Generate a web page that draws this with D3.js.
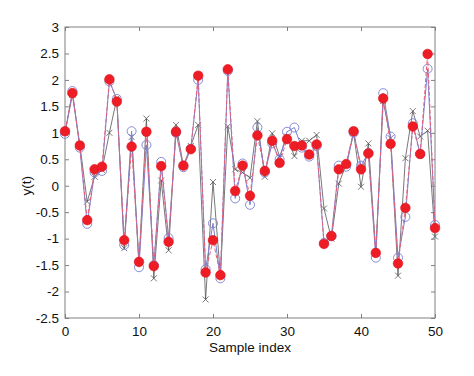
<!DOCTYPE html>
<html>
<head>
<meta charset="utf-8">
<script src="https://cdn.jsdelivr.net/npm/d3@7"></script>
<style>
  body { margin: 0; background: #fff; }
  svg text { font-family: "Liberation Sans", Arial, sans-serif; }
</style>
</head>
<body>
<svg id="chart"></svg>
<script>
// values, x = 0..50
const estimated = [1.03,1.75,0.76,-0.65,0.31,0.36,2.01,1.59,-1.03,0.74,-1.44,1.02,-1.52,0.37,-1.06,1.02,0.38,0.69,2.08,-1.64,
  -1.03,-1.69,2.2,-0.1,0.38,-0.19,0.95,0.28,0.85,0.43,0.88,0.75,0.76,0.59,0.78,-1.1,-0.95,0.31,0.41,1.03,
  0.31,0.61,-1.27,1.65,0.79,-1.47,-0.42,1.12,0.6,2.49,-0.8];
const reference = [0.98,1.79,0.72,-0.72,0.25,0.28,1.97,1.64,-1.12,1.03,-1.54,0.77,-1.5,0.45,-0.99,1.0,0.35,0.7,2.0,-1.58,
  -0.71,-1.75,2.17,-0.24,0.42,-0.36,1.1,0.25,0.8,0.5,1.02,1.1,0.72,0.55,0.75,-1.08,-0.95,0.38,0.36,1.0,
  0.38,0.62,-1.36,1.75,0.93,-1.36,-0.59,1.18,0.6,2.21,-0.74];
const measured = [1.0,1.72,0.78,-0.3,0.17,0.3,1.0,1.65,-1.18,0.92,-1.45,1.27,-1.75,0.1,-1.22,1.15,0.38,0.75,1.15,-2.15,
  0.07,-1.7,1.12,0.31,0.25,0.15,1.22,0.17,0.99,0.55,0.93,0.56,0.85,0.85,0.96,-0.43,-1.0,0.04,0.4,1.0,
  -0.02,0.8,-1.25,1.6,0.9,-1.7,0.52,1.41,0.93,1.04,-0.96];
const xTicks = [0, 10, 20, 30, 40, 50];
const yTicks = [-2.5, -2, -1.5, -1, -0.5, 0, 0.5, 1, 1.5, 2, 2.5, 3];

const width = 474, height = 376;
const marginLeft = 65, marginRight = 39, marginTop = 27, marginBottom = 58;

const svg = d3.select('#chart')
  .attr('width', width)
  .attr('height', height)
  .attr('viewBox', [0, 0, width, height]);

const x = d3.scaleLinear().domain([0, 50]).range([marginLeft, width - marginRight]);
const y = d3.scaleLinear().domain([-2.5, 3]).range([height - marginBottom, marginTop]);

const axisColor = '#808080';
const tickLen = 4;
const plain = (d) => String(d); // hyphen minus, no trailing zeros

// box + inward ticks, matlab style
function styleAxis(g) {
  g.select('.domain').remove();
  g.selectAll('.tick line').attr('stroke', axisColor);
  g.selectAll('.tick text').attr('fill', '#111').style('font-size', '13.5px');
}

svg.append('g')
  .attr('transform', `translate(0,${height - marginBottom})`)
  .call(d3.axisBottom(x).tickValues(xTicks).tickSize(-tickLen).tickPadding(8).tickFormat(plain))
  .call(styleAxis);
svg.append('g')
  .attr('transform', `translate(0,${marginTop})`)
  .call(d3.axisTop(x).tickValues(xTicks).tickSize(-tickLen).tickFormat(''))
  .call(styleAxis);
svg.append('g')
  .attr('transform', `translate(${marginLeft},0)`)
  .call(d3.axisLeft(y).tickValues(yTicks).tickSize(-tickLen).tickPadding(6).tickFormat(plain))
  .call(styleAxis);
svg.append('g')
  .attr('transform', `translate(${width - marginRight},0)`)
  .call(d3.axisRight(y).tickValues(yTicks).tickSize(-tickLen).tickFormat(''))
  .call(styleAxis);

svg.append('rect')
  .attr('x', marginLeft).attr('y', marginTop)
  .attr('width', width - marginLeft - marginRight)
  .attr('height', height - marginTop - marginBottom)
  .attr('fill', 'none')
  .attr('stroke', axisColor);

const line = d3.line().x((d, i) => x(i)).y((d) => y(d));

/** black with x markers **/
svg.append('path').datum(measured)
  .attr('d', line).attr('fill', 'none')
  .attr('stroke', '#555').attr('stroke-width', 0.8);
svg.append('g').selectAll('path')
  .data(measured)
  .join('path')
  .attr('transform', (d, i) => `translate(${x(i)},${y(d)})`)
  .attr('d', 'M-3,-3L3,3M-3,3L3,-3')
  .attr('stroke', '#555').attr('stroke-width', 0.8);

/** blue open circles **/
svg.append('path').datum(reference)
  .attr('d', line).attr('fill', 'none')
  .attr('stroke', '#7b7fd0').attr('stroke-width', 1);
svg.append('g').selectAll('circle')
  .data(reference)
  .join('circle')
  .attr('cx', (d, i) => x(i)).attr('cy', (d) => y(d)).attr('r', 4.5)
  .attr('fill', 'none').attr('stroke', '#7b7fd0').attr('stroke-width', 0.9);

/** red dashed, filled dots **/
svg.append('path').datum(estimated)
  .attr('d', line).attr('fill', 'none')
  .attr('stroke', '#e8607a').attr('stroke-width', 1)
  .attr('stroke-dasharray', '4,2');
svg.append('g').selectAll('circle')
  .data(estimated)
  .join('circle')
  .attr('cx', (d, i) => x(i)).attr('cy', (d) => y(d)).attr('r', 4.8)
  .attr('fill', '#ee1c24').attr('stroke', '#e0101c').attr('stroke-width', 0.6);

svg.append('text')
  .attr('x', x(25)).attr('y', 352)
  .attr('text-anchor', 'middle')
  .style('font-size', '13.5px').attr('fill', '#111')
  .text('Sample index');
svg.append('text')
  .attr('transform', `translate(31,${y(0)}) rotate(-90)`)
  .attr('text-anchor', 'middle')
  .style('font-size', '13.5px').attr('fill', '#111')
  .text('y(t)');
</script>
</body>
</html>
